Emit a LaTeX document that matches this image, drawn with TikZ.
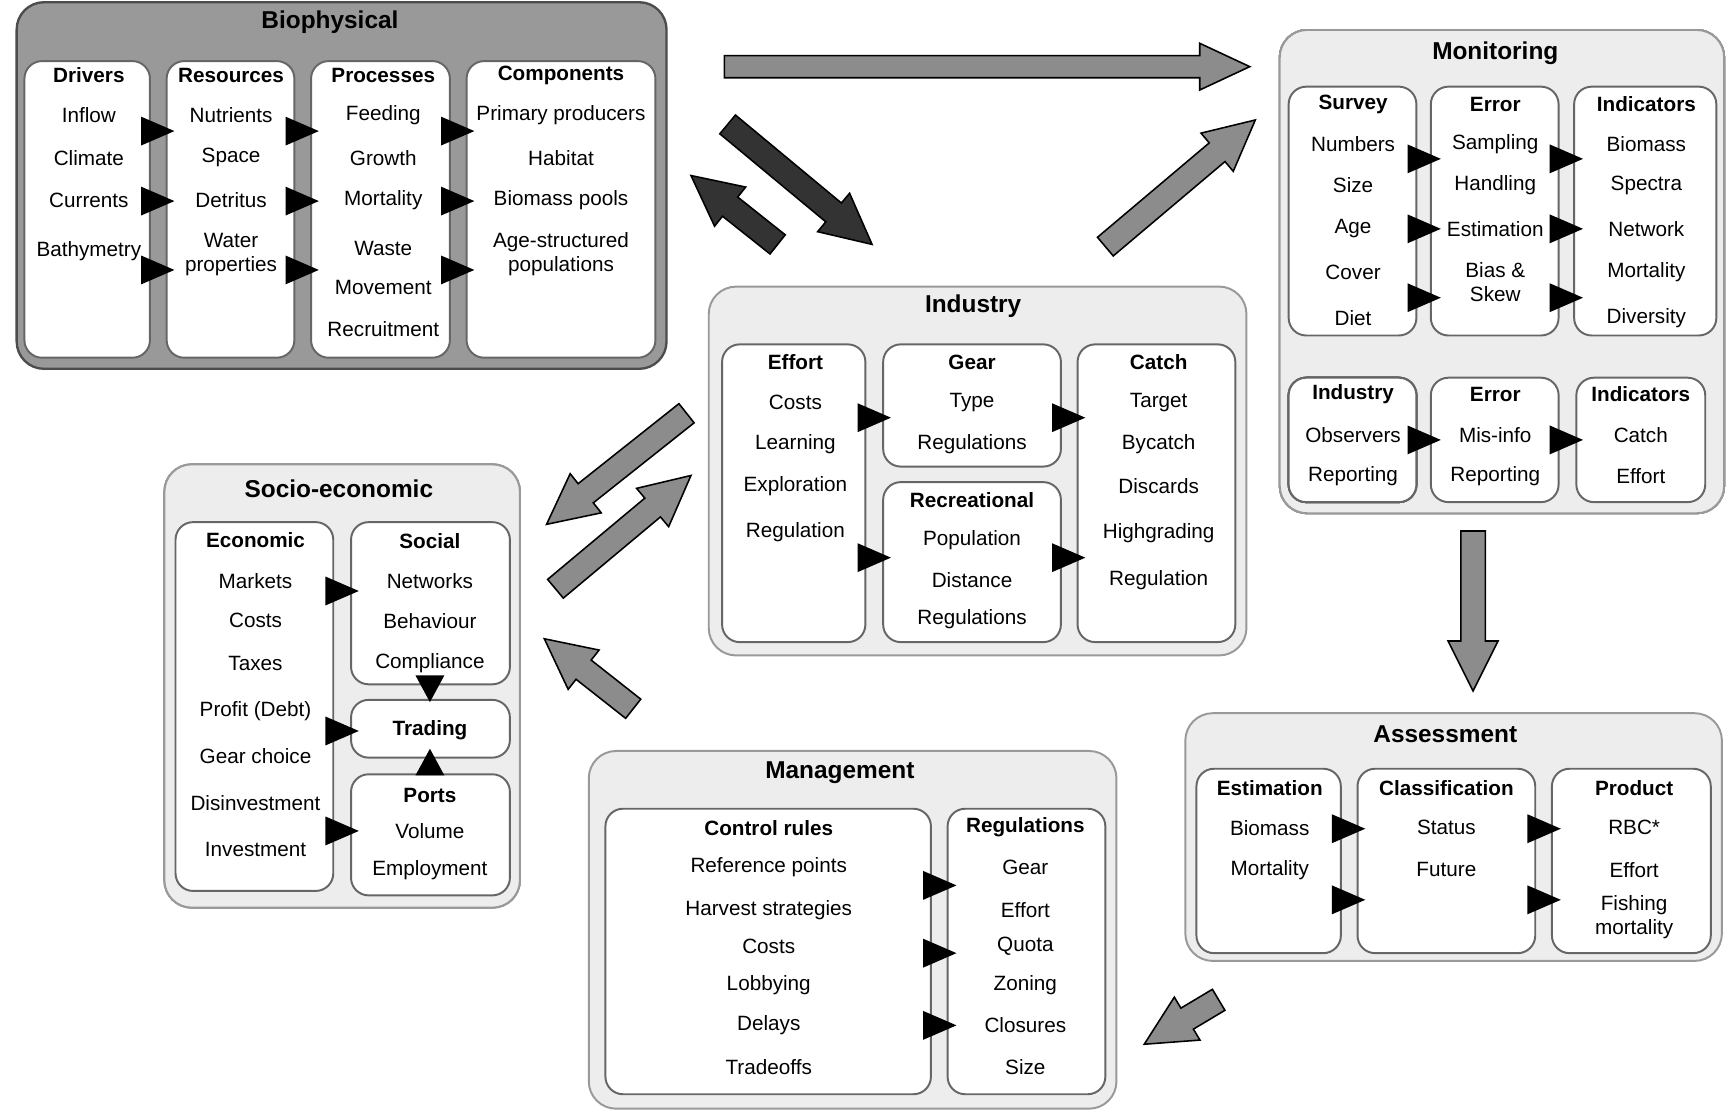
\documentclass[tikz,border=0pt]{standalone}
\usepackage{fontspec}
\setmainfont{Liberation Sans}
\usetikzlibrary{calc}
\begin{document}
\begin{tikzpicture}[x=0.2mm,y=-0.2mm,
 outerB/.style={draw=black!70,fill=black!40,line width=1.2pt,rounded corners=14pt},
 outerL/.style={draw=black!40,fill=black!7,line width=1pt,rounded corners=14pt},
 inner/.style={draw=black!60,fill=white,line width=1pt,rounded corners=9pt},
 it/.style={font=\fontsize{10.6}{12.3}\selectfont,align=center,inner sep=0pt},
 hd/.style={font=\fontsize{10.6}{12.3}\selectfont\bfseries,inner sep=0pt},
 tt/.style={font=\fontsize{12.5}{15}\selectfont\bfseries,inner sep=0pt},
 barrow/.style={draw=black,line width=0.8pt,fill=black!45},
 darrow/.style={draw=black,line width=0.8pt,fill=black!80}]
\useasboundingbox (0,0) rectangle (1560,1003);
\newcommand\tr[2]{\fill (#1-15,#2-13) -- (#1+15,#2) -- (#1-15,#2+13) -- cycle;}
\newcommand\td[2]{\fill (#1-13,#2-12) -- (#1+13,#2-12) -- (#1,#2+12) -- cycle;}
\newcommand\tu[2]{\fill (#1-13,#2+12) -- (#1+13,#2+12) -- (#1,#2-12) -- cycle;}
\newcommand\blk[5]{% style, A, B, shaft half, head half
 \path[#1] ($(#2)!#4!90:(#3)$) -- ($($(#3)!9mm!(#2)$)!#4!-90:(#2)$) -- ($($(#3)!9mm!(#2)$)!#5!-90:(#2)$) -- (#3) -- ($($(#3)!9mm!(#2)$)!#5!90:(#2)$) -- ($($(#3)!9mm!(#2)$)!#4!90:(#2)$) -- ($(#2)!#4!-90:(#3)$) -- cycle;}
% ---------- Biophysical
\draw[outerB] (15,2) rectangle (600,332);
\node[tt] (bio) at (297,20) {Biophysical};
\draw[inner] (22,55) rectangle (135,322);
\draw[inner] (150,55) rectangle (265,322);
\draw[inner] (280,55) rectangle (405,322);
\draw[inner] (420,55) rectangle (590,322);
\node[hd] at (80,68) {Drivers};
\node[hd] at (208,68) {Resources};
\node[hd] at (345,68) {Processes};
\node[hd] at (505,68) {Components};
\foreach \t/\y in {Inflow/104,Climate/142,Currents/180,Bathymetry/226} \node[it] at (80,\y) {\t};
\foreach \t/\y in {Nutrients/104,Space/142,Detritus/180,{Water\\properties}/229} \node[it] at (208,\y) {\t};
\foreach \t/\y in {Feeding/104,Growth/142,Mortality/180,Waste/224,Movement/259,Recruitment/296} \node[it] at (345,\y) {\t};
\foreach \t/\y in {Primary producers/104,Habitat/142,Biomass pools/180,{Age-structured\\populations}/229} \node[it] at (505,\y) {\t};
\foreach \x in {142,272,412} \foreach \y in {118,181,243} \tr{\x}{\y}
% ---------- Monitoring
\draw[outerL] (1152,27) rectangle (1552,462);
\node[tt] (mon) at (1346,48) {Monitoring};
\draw[inner] (1160,78) rectangle (1275,302);
\draw[inner] (1288,78) rectangle (1403,302);
\draw[inner] (1417,78) rectangle (1545,302);
\node[hd] at (1218,94) {Survey};
\node[hd] at (1346,94) {Error};
\node[hd] at (1482,94) {Indicators};
\foreach \t/\y in {Numbers/130,Size/167,Age/206,Cover/245,Diet/286} \node[it] at (1218,\y) {\t};
\foreach \t/\y in {Sampling/130,Handling/167,Estimation/206,{Bias \&\\Skew}/254} \node[it] at (1346,\y) {\t};
\foreach \t/\y in {Biomass/130,Spectra/167,Network/206,Mortality/245,Diversity/286} \node[it] at (1482,\y) {\t};
\foreach \x in {1282,1410} \foreach \y in {143,206,268} \tr{\x}{\y}
\draw[inner] (1160,340) rectangle (1275,452);
\draw[inner] (1288,340) rectangle (1403,452);
\draw[inner] (1419,340) rectangle (1535,452);
\node[hd] at (1218,355) {Industry};
\node[hd] at (1346,355) {Error};
\node[hd] at (1477,355) {Indicators};
\node[it] at (1218,392) {Observers}; \node[it] at (1218,429) {Reporting};
\node[it] at (1346,392) {Mis-info}; \node[it] at (1346,429) {Reporting};
\node[it] at (1477,392) {Catch}; \node[it] at (1477,429) {Effort};
\tr{1282}{396} \tr{1410}{396}
% ---------- Industry
\draw[outerL] (638,258) rectangle (1122,590);
\node[tt] (ind) at (876,276) {Industry};
\draw[inner] (650,310) rectangle (779,578);
\draw[inner] (795,310) rectangle (955,420);
\draw[inner] (795,434) rectangle (955,578);
\draw[inner] (970,310) rectangle (1112,578);
\node[hd] at (716,326) {Effort};
\node[hd] at (875,326) {Gear};
\node[hd] at (875,450) {Recreational};
\node[hd] at (1043,326) {Catch};
\foreach \t/\y in {Costs/362,Learning/400,Exploration/438,Regulation/479} \node[it] at (716,\y) {\t};
\foreach \t/\y in {Type/362,Regulations/400,Population/486,Distance/522,Regulations/557} \node[it] at (875,\y) {\t};
\foreach \t/\y in {Target/362,Bycatch/400,Discards/438,Highgrading/480,Regulation/522} \node[it] at (1043,\y) {\t};
\foreach \x in {787,962} \foreach \y in {376,502} \tr{\x}{\y}
% ---------- Socio-economic
\draw[outerL] (148,418) rectangle (468,817);
\node[tt] (soc) at (305,440) {Socio-economic};
\draw[inner] (158,470) rectangle (300,802);
\draw[inner] (316,470) rectangle (459,616);
\draw[inner] (316,630) rectangle (459,682);
\draw[inner] (316,697) rectangle (459,806);
\node[hd] at (230,486) {Economic};
\node[hd] at (387,487) {Social};
\node[hd] at (387,657) {Trading};
\node[hd] at (387,716) {Ports};
\foreach \t/\y in {Markets/523,Costs/558,Taxes/597,Profit (Debt)/640,Gear choice/681,Disinvestment/723,Investment/765} \node[it] at (230,\y) {\t};
\foreach \t/\y in {Networks/523,Behaviour/559,Compliance/597,Volume/748,Employment/783} \node[it] at (387,\y) {\t};
\tr{308}{532} \tr{308}{658} \tr{308}{748}
\td{387}{620} \tu{387}{686}
% ---------- Management
\draw[outerL] (530,676) rectangle (1005,998);
\node[tt] (man) at (756,696) {Management};
\draw[inner] (545,728) rectangle (838,985);
\draw[inner] (853,728) rectangle (995,985);
\node[hd] at (692,745) {Control rules};
\node[hd] at (923,745) {Regulations};
\foreach \t/\y in {Reference points/781,Harvest strategies/819,Costs/852,Lobbying/887,Delays/923,Tradeoffs/961} \node[it] at (692,\y) {\t};
\foreach \t/\y in {Gear/781,Effort/819,Quota/852,Zoning/887,Closures/923,Size/961} \node[it] at (923,\y) {\t};
\tr{846}{797} \tr{846}{858} \tr{846}{923}
% ---------- Assessment
\draw[outerL] (1067,642) rectangle (1550,865);
\node[tt] (ass) at (1301,661) {Assessment};
\draw[inner] (1077,692) rectangle (1207,858);
\draw[inner] (1222,692) rectangle (1382,858);
\draw[inner] (1397,692) rectangle (1540,858);
\node[hd] at (1143,709) {Estimation};
\node[hd] at (1302,709) {Classification};
\node[hd] at (1471,709) {Product};
\node[it] at (1143,745) {Biomass}; \node[it] at (1143,783) {Mortality};
\node[it] at (1302,745) {Status}; \node[it] at (1302,783) {Future};
\node[it] at (1471,745) {RBC*}; \node[it] at (1471,783) {Effort}; \node[it] at (1471,826) {Fishing\\mortality};
\foreach \x in {1214,1390} \foreach \y in {746,810} \tr{\x}{\y}
% ---------- Block arrows
\coordinate (a1s) at (652,60); \coordinate (a1e) at (1125,60);
\coordinate (a2s) at (655,112); \coordinate (a2e) at (785,220);
\coordinate (a3s) at (700,220); \coordinate (a3e) at (622,158);
\coordinate (a4s) at (995,222); \coordinate (a4e) at (1130,108);
\coordinate (a5s) at (1326,478); \coordinate (a5e) at (1326,622);
\coordinate (a6s) at (1097,900); \coordinate (a6e) at (1030,940);
\coordinate (a7s) at (570,638); \coordinate (a7e) at (490,575);
\coordinate (a8s) at (618,372); \coordinate (a8e) at (492,472);
\coordinate (a9s) at (500,530); \coordinate (a9e) at (622,428);
\blk{barrow}{a1s}{a1e}{2mm}{4.2mm}
\blk{darrow}{a2s}{a2e}{2.2mm}{4.5mm}
\blk{darrow}{a3s}{a3e}{2.2mm}{4.5mm}
\blk{barrow}{a4s}{a4e}{2.2mm}{4.5mm}
\blk{barrow}{a5s}{a5e}{2.2mm}{4.5mm}
\blk{barrow}{a6s}{a6e}{2.2mm}{4.5mm}
\blk{barrow}{a7s}{a7e}{2.2mm}{4.5mm}
\blk{barrow}{a8s}{a8e}{2.2mm}{4.5mm}
\blk{barrow}{a9s}{a9e}{2.2mm}{4.5mm}
\end{tikzpicture}
\end{document}
